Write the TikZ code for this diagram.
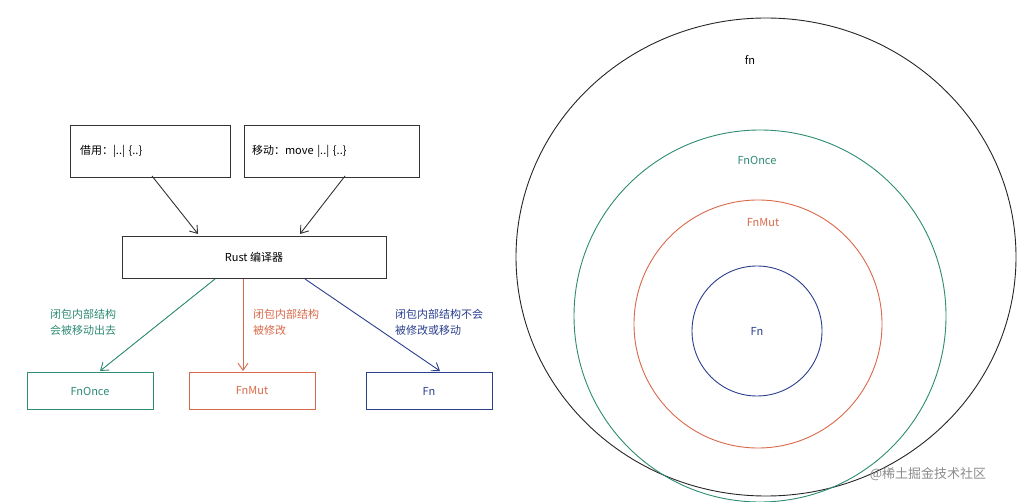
\documentclass[tikz,border=0pt]{standalone}
\usepackage{fontspec}
\setmainfont{Noto Sans CJK SC}
\usetikzlibrary{arrows.meta}
\definecolor{cg}{HTML}{2E8B74}
\definecolor{co}{HTML}{D9694A}
\definecolor{cb}{HTML}{2B3F8F}
\begin{document}
\begin{tikzpicture}[x=1pt,y=-1pt,
 box/.style={draw=#1,line width=0.9pt,inner sep=0pt,font=\fontsize{11}{13}\selectfont},
 arr/.style={draw=#1,line width=0.9pt,-{Straight Barb[length=7pt,width=10pt]}},
 lab/.style={font=\fontsize{11}{16}\selectfont,align=left,text=#1,inner sep=0pt,anchor=west}]
\useasboundingbox[fill=white] (0,0) rectangle (1028,502);
\node[box=black!80,minimum width=160,minimum height=52,text width=140] (b1) at (150,151) {借用：|..| \{..\}};
\node[box=black!80,minimum width=175,minimum height=52,text width=160] (b2) at (332,151) {移动：move |..| \{..\}};
\node[box=black!80,minimum width=264,minimum height=42] (rc) at (254,257) {Rust 编译器};
\node[box=cg,minimum width=126,minimum height=37,text=cg] (f1) at (90,391) {FnOnce};
\node[box=co,minimum width=126,minimum height=37,text=co] (f2) at (252,391) {FnMut};
\node[box=cb,minimum width=126,minimum height=37,text=cb] (f3) at (429,391) {Fn};
\coordinate (s1) at (152,176); \coordinate (s2) at (345,176);
\draw[arr=black!80] (s1) -- (198,234);
\draw[arr=black!80] (s2) -- (300,234);
\coordinate (g0) at (215,279); \coordinate (o0) at (243,279); \coordinate (u0) at (305,279);
\draw[arr=cg] (g0) -- (100,371);
\draw[arr=co] (o0) -- (243,371);
\draw[arr=cb] (u0) -- (440,371);
\node[lab=cg] (l1) at (50,322) {闭包内部结构\\会被移动出去};
\node[lab=co] (l2) at (253,322) {闭包内部结构\\被修改};
\node[lab=cb] (l3) at (395,322) {闭包内部结构不会\\被修改或移动};
\draw[black!85,line width=0.9pt] (766,257) ellipse [x radius=250,y radius=239];
\draw[cg,line width=0.9pt] (760,316) circle (186);
\draw[co,line width=0.9pt] (758,324) circle (124);
\draw[cb,line width=0.9pt] (757,331) circle (65);
\node[font=\fontsize{11}{13}\selectfont] (t0) at (750,60) {fn};
\node[font=\fontsize{11}{13}\selectfont,text=cg] (t1) at (757,160) {FnOnce};
\node[font=\fontsize{11}{13}\selectfont,text=co] (t2) at (763,223) {FnMut};
\node[font=\fontsize{11}{13}\selectfont,text=cb] (t3) at (757,331) {Fn};
\node[font=\fontsize{13}{15}\selectfont,text=black!45] (wm) at (928,474) {@稀土掘金技术社区};
\end{tikzpicture}
\end{document}
